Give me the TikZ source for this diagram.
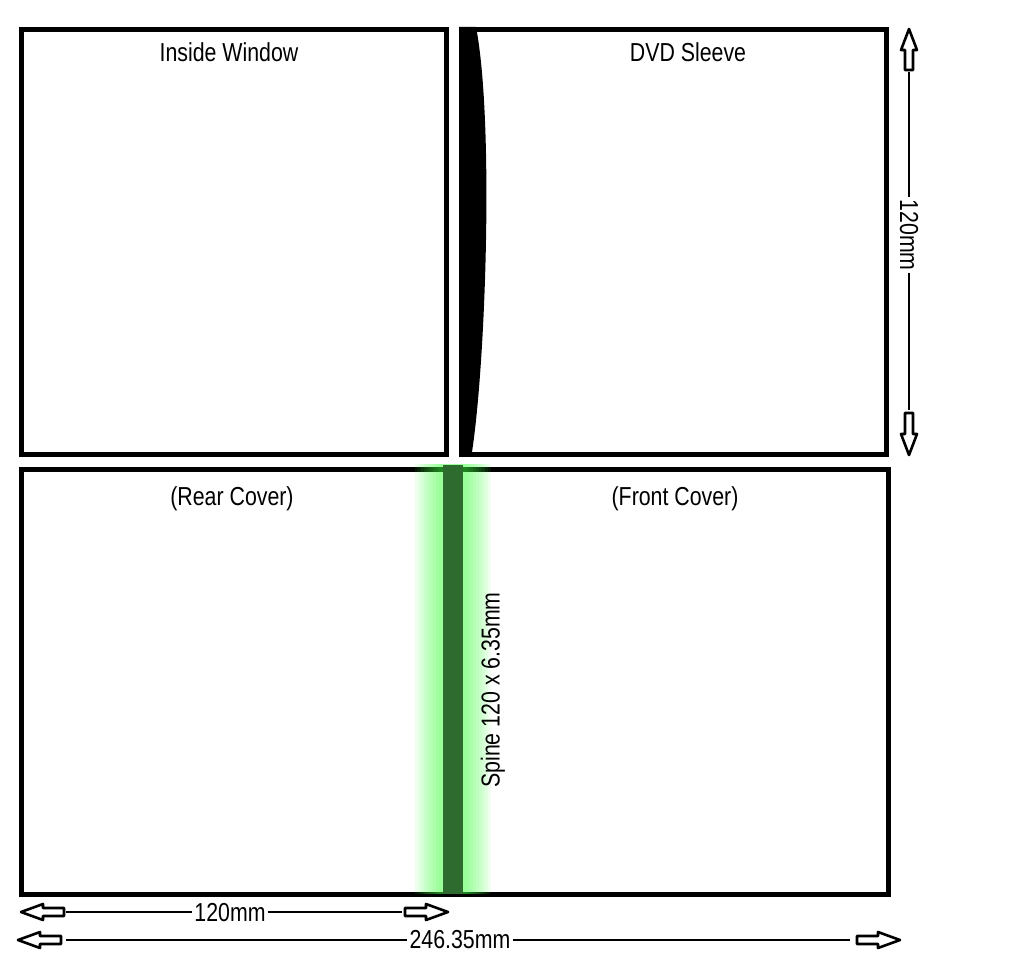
\documentclass[tikz,border=0pt]{standalone}
\usepackage{fontspec}
\setmainfont{Liberation Sans}
\newfontfamily\nar[FakeStretch=0.82]{Liberation Sans}
\definecolor{spinec}{HTML}{2E6B2E}
\begin{document}
\begin{tikzpicture}[x=1pt,y=-1pt,
  box/.style={draw=black,line width=5pt,fill=white},
  lbl/.style={font=\nar\fontsize{26}{28}\selectfont,inner sep=2pt},
  dim/.style={line width=2pt},
  harrow/.style={draw=black,line width=2.6pt,fill=white,line join=round}]
\useasboundingbox (0,0) rectangle (1011,974);
\node[box,minimum width=425pt,minimum height=425pt,anchor=north west] (iw) at (19,27) {};
\node[box,minimum width=425pt,minimum height=425pt,anchor=north west] (dvd) at (459,27) {};
\node[box,minimum width=867pt,minimum height=425pt,anchor=north west] (bot) at (19,467) {};
\fill (459,27) -- (476,27) .. controls (494,120) and (486,360) .. (472,452) -- (459,452) -- cycle;
\foreach \w in {38,35,32,29,26,23,20,17,14}{
  \fill[green!75!white,opacity=0.08] (453-\w,464) rectangle (453+\w,894);}
\fill[spinec] (443,465) rectangle (463,894);
\node[lbl] (t1) at (229,52) {Inside Window};
\node[lbl] (t2) at (688,52) {DVD Sleeve};
\node[lbl] (t3) at (232,499) {(Rear Cover)};
\node[lbl] (t4) at (675,499) {(Front Cover)};
\node[lbl,rotate=90] (sp) at (493,690) {Spine 120 x 6.35mm};
% bottom dims
\node[lbl] (d1) at (230,913) {120mm};
\node[lbl] (d2) at (460,940) {246.35mm};
\coordinate (a1) at (66,912); \coordinate (a2) at (402,912);
\coordinate (b1) at (66,940); \coordinate (b2) at (850,940);
\draw[dim] (a1) -- (a1 -| d1.west); \draw[dim] (a2 -| d1.east) -- (a2);
\draw[dim] (b1) -- (b1 -| d2.west); \draw[dim] (b2 -| d2.east) -- (b2);
\draw[harrow] (21,912) -- (43,904) -- (43,908) -- (64,908) -- (64,916) -- (43,916) -- (43,920) -- cycle;
\draw[harrow] (448,912) -- (426,904) -- (426,908) -- (405,908) -- (405,916) -- (426,916) -- (426,920) -- cycle;
\draw[harrow] (18,940) -- (40,932) -- (40,936) -- (61,936) -- (61,944) -- (40,944) -- (40,948) -- cycle;
\draw[harrow] (900,940) -- (878,932) -- (878,936) -- (857,936) -- (857,944) -- (878,944) -- (878,948) -- cycle;
% vertical dim
\node[lbl,rotate=-90] (d3) at (909,235) {120mm};
\coordinate (c1) at (909,72); \coordinate (c2) at (909,410);
\draw[dim] (c1) -- (c1 |- d3.west); \draw[dim] (c2 |- d3.east) -- (c2);
\draw[harrow] (909,29) -- (901,50) -- (905,50) -- (905,70) -- (913,70) -- (913,50) -- (917,50) -- cycle;
\draw[harrow] (909,455) -- (901,434) -- (905,434) -- (905,413) -- (913,413) -- (913,434) -- (917,434) -- cycle;
\end{tikzpicture}
\end{document}
